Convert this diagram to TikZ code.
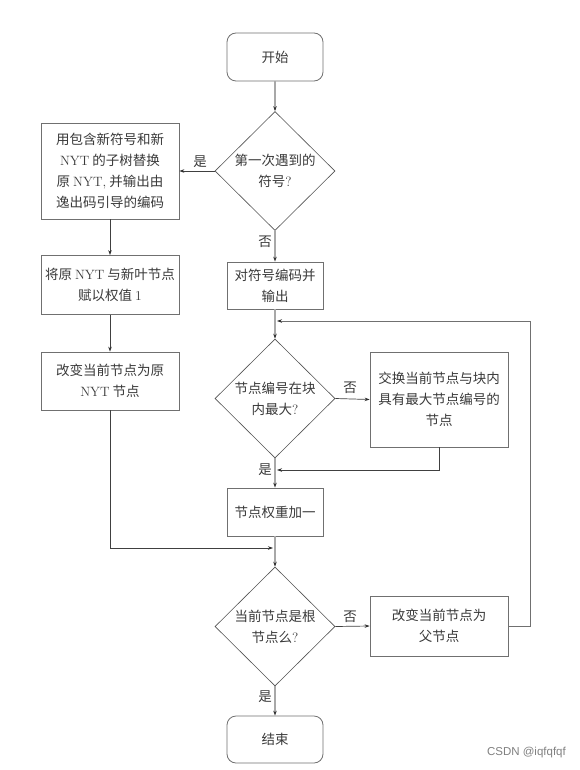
\documentclass[tikz,border=0pt]{standalone}
\usepackage{fontspec}
\newfontfamily\cjk{Noto Sans CJK SC}
\newfontfamily\wmfont{Liberation Sans}
\usetikzlibrary{shapes.geometric,arrows.meta}
\newcommand\lat[1]{{\rmfamily #1}}
\definecolor{txt}{HTML}{3A3A3A}
\definecolor{boxc}{HTML}{707070}
\definecolor{vline}{HTML}{A8A8A8}
\definecolor{hline}{HTML}{404040}
\definecolor{tipc}{HTML}{303030}
\begin{document}
\begin{tikzpicture}[x=1pt,y=-1pt,
 base/.style={font=\cjk\fontsize{13.5}{21}\selectfont, text=txt, align=center, inner sep=0pt},
 proc/.style={base, draw=boxc, line width=0.8pt, minimum width=138pt},
 term/.style={base, draw=boxc, line width=0.8pt, rounded corners=9pt, minimum width=96pt, minimum height=48pt},
 dec/.style={base, diamond, draw=hline!90, line width=0.6pt, minimum width=120pt, minimum height=119pt},
 vflow/.style={draw=vline, line width=1.3pt, -{Stealth[length=5pt,width=3.5pt,color=tipc]}},
 hflow/.style={draw=hline, line width=0.7pt, -{Stealth[length=5pt,width=3.5pt,color=tipc]}},
 lbl/.style={font=\cjk\fontsize{13.5}{16}\selectfont, text=txt, inner sep=0pt}]
\fill[white] (0,0) rectangle (579,770);
\useasboundingbox (0,0) rectangle (579,770);

\node[term] (start) at (275,57) {开始};
\node[dec] (d1) at (275,171) {第一次遇到的\\符号\lat{?}};
\node[proc, minimum height=96pt] (b1) at (110,171) {用包含新符号和新\\\lat{NYT} 的子树替换\\原 \lat{NYT,} 并输出由\\逸出码引导的编码};
\node[proc, minimum height=59pt] (b2) at (110,285) {将原 \lat{NYT} 与新叶节点\\赋以权值 \lat{1}};
\node[proc, minimum height=58pt] (b3) at (110,381) {改变当前节点为原\\\lat{NYT} 节点};
\node[proc, minimum width=96pt, minimum height=47pt] (enc) at (275,285.5) {对符号编码并\\输出};
\node[dec] (d2) at (275,398.5) {节点编号在块\\内最大\lat{?}};
\node[proc, minimum height=95pt] (swap) at (439,399.5) {交换当前节点与块内\\具有最大节点编号的\\节点};
\node[proc, minimum width=96pt, minimum height=48pt] (inc) at (275,512) {节点权重加一};
\node[dec] (d3) at (275,626.5) {当前节点是根\\节点么\lat{?}};
\node[proc, minimum height=60pt] (par) at (439,626) {改变当前节点为\\父节点};
\node[term, minimum height=47pt] (end) at (275,739.5) {结束};

\coordinate (j1) at (277,470);
\coordinate (j2) at (273,548);
\coordinate (c1) at (530,626);
\coordinate (j3) at (277,321);

\draw[vflow] (start) -- (d1);
\draw[hflow] (d1.west) -- (b1.east);
\node[lbl] (l1) at (200,162) {是};
\draw[vflow] (d1.south) -- (enc.north);
\node[lbl] (l2) at (265,242) {否};
\draw[hflow] (b1) -- (b2);
\draw[hflow] (b2) -- (b3);
\draw[vflow] (enc) -- (d2);
\draw[hflow] (d2.east) -- (swap.west);
\node[lbl] (l3) at (350,388) {否};
\draw[vflow] (d2.south) -- (inc.north);
\node[lbl] (l4) at (265,470) {是};
\draw[hflow] (swap.south) |- (j1);
\draw[vflow] (inc) -- (d3);
\draw[hflow] (b3.south) |- (j2);
\draw[hflow] (d3.east) -- (par.west);
\node[lbl] (l5) at (350,617) {否};
\draw[vflow] (d3.south) -- (end.north);
\node[lbl] (l6) at (265,697) {是};
\draw[hflow, draw=boxc] (par.east) -- (c1) |- (j3);

\node[font=\wmfont\fontsize{11.5}{13}\selectfont, text=gray, anchor=east, inner sep=0pt] (wm) at (566,753) {CSDN @iqfqfqf};
\end{tikzpicture}
\end{document}
